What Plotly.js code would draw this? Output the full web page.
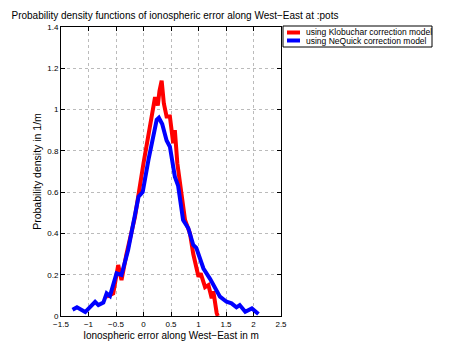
<!DOCTYPE html>
<html><head><meta charset="utf-8">
<script src="https://cdn.plot.ly/plotly-3.0.1.min.js"></script>
<style>body{margin:0;background:#fff}#c{width:474px;height:355px}</style>
</head><body><div id="c"></div>
<script>
const klobX = [-0.67,-0.55,-0.46,-0.40,-0.31,-0.155,0.0,0.09,0.15,0.21,0.26,0.29,0.33,0.37,0.42,0.48,0.54,0.57,0.615,0.675,0.755,0.845,0.905,1.0,1.04,1.12,1.18,1.24,1.27,1.33,1.35];
const klobY = [0.094,0.11,0.247,0.174,0.30,0.48,0.74,0.877,0.95,1.06,1.02,1.09,1.14,1.03,0.966,0.966,0.837,0.90,0.74,0.61,0.465,0.40,0.30,0.19,0.207,0.14,0.15,0.086,0.12,0.015,0.0];
const neqX = [-1.29,-1.21,-1.06,-0.88,-0.82,-0.73,-0.67,-0.61,-0.49,-0.40,-0.28,-0.09,-0.015,0.09,0.24,0.28,0.34,0.42,0.48,0.57,0.63,0.72,0.815,0.905,0.96,1.09,1.21,1.30,1.39,1.51,1.60,1.69,1.75,1.85,1.97,2.09];
const neqY = [0.03,0.042,0.019,0.069,0.053,0.065,0.11,0.097,0.207,0.199,0.32,0.578,0.60,0.756,0.95,0.96,0.93,0.85,0.82,0.675,0.63,0.465,0.425,0.344,0.33,0.23,0.18,0.14,0.094,0.069,0.061,0.042,0.053,0.021,0.037,0.01];
const seriesNames = ['using Klobuchar correction model','using NeQuick correction model'];
const seriesColors = ['#ff0000','#0000ff'];

const font = {family:'Liberation Sans, Arial, sans-serif', color:'#000'};
const traces = [
  {x:klobX, y:klobY, mode:'lines', name:seriesNames[0], line:{color:seriesColors[0], width:4}},
  {x:neqX, y:neqY, mode:'lines', name:seriesNames[1], line:{color:seriesColors[1], width:4}}
];
const axBase = {showline:true, linecolor:'#000', linewidth:1, mirror:'ticks', ticks:'inside', ticklen:4, tickcolor:'#000',
  showgrid:true, gridcolor:'#bbbbbb', griddash:'dot', gridwidth:1, zeroline:false, tickfont:{...font, size:8}};

// manual legend (MATLAB style) in paper coordinates
const px = v => (v-61)/220, py = v => (316-v)/289;
const shapes = [
  {type:'rect', xref:'paper', yref:'paper', x0:px(283), x1:px(432), y0:py(47), y1:py(26), line:{color:'#000', width:1}, fillcolor:'#fff', layer:'above'}
];
const annotations = [];
seriesNames.forEach((n,i)=>{
  const yy = 32.5 + i*8;
  shapes.push({type:'line', xref:'paper', yref:'paper', x0:px(287), x1:px(300), y0:py(yy), y1:py(yy), line:{color:seriesColors[i], width:4}, layer:'above'});
  annotations.push({text:n, xref:'paper', yref:'paper', x:px(304), y:py(yy), xanchor:'left', yanchor:'middle', showarrow:false, font:{...font,size:8.5}});
});

const layout = {
  width:474, height:355, paper_bgcolor:'#fff', plot_bgcolor:'#fff',
  margin:{l:61, r:193, t:27, b:39},
  font:font, shapes:shapes, annotations:annotations, showlegend:false,
  title:{text:'Probability density functions of ionospheric error along West\u2212East at :pots', font:{...font,size:10},
    xref:'paper', x:0.518, xanchor:'center', yref:'container', y:1-15/355, yanchor:'middle'},
  xaxis:{...axBase, range:[-1.5,2.5], dtick:0.5, title:{text:'Ionospheric error along West\u2212East in m', font:{...font,size:10}, standoff:4}},
  yaxis:{...axBase, range:[0,1.4], dtick:0.2, title:{text:'Probability density in 1/m', font:{...font,size:10.5}, standoff:3}}
};
Plotly.newPlot('c', traces, layout, {displayModeBar:false, staticPlot:true});
</script></body></html>
